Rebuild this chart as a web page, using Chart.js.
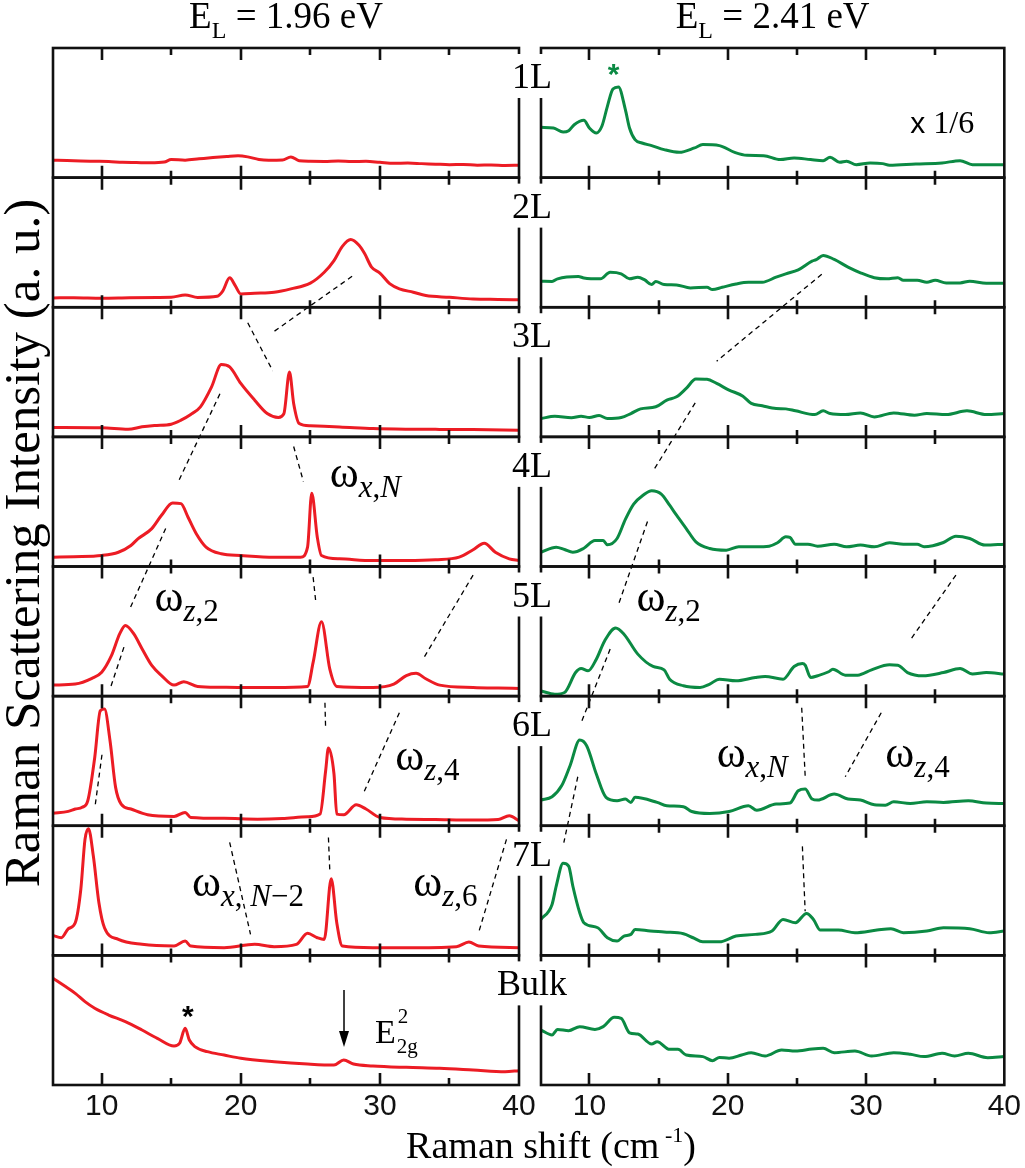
<!DOCTYPE html>
<html>
<head>
<meta charset="utf-8">
<title>Raman spectra 1L - Bulk</title>
<script src="https://cdn.jsdelivr.net/npm/chart.js@4.4.1/dist/chart.umd.min.js"></script>
<style>
  body { margin: 0; background: #fff; }
  #wrap { position: relative; width: 1025px; height: 1168px; }
  #wrap canvas { position: absolute; left: 0; top: 0; }
</style>
</head>
<body>
<div id="wrap">
  <canvas id="chartLeft" width="1025" height="1168"></canvas>
  <canvas id="chartRight" width="1025" height="1168"></canvas>
</div>
<script>
// panels, top to bottom
const panels = ['1L', '2L', '3L', '4L', '5L', '6L', '7L', 'Bulk'];
const xTickValues = [10, 20, 30, 40];
const xMinorTicks = [15, 25, 35];

// E_L = 1.96 eV (red), [shift cm-1, intensity a.u.]
const red1L = [[6.5,13.4],[7.5,13.2],[8.5,12.8],[9.5,12.6],[10.5,12.4],[11.5,11.8],[12.5,11.6],[13.5,11.4],[14.5,12.0],[15,13.9],[16,13.5],[17,14.5],[18,15.5],[19,16.3],[19.8,16.8],[20.5,16.0],[21.3,14.0],[22,13.4],[23,13.6],[23.6,16.0],[24.2,13.0],[25,12.6],[26,12.5],[27,12.8],[28,12.4],[29,12.6],[30,11.8],[31,11.0],[32,11.2],[33,10.8],[34,10.4],[35,10.0],[36,10.2],[37,9.6],[38,9.8],[39,9.4],[40,9.6]];
const red2L = [[6.5,7.2],[8,7.4],[10,7.0],[12,7.4],[14,7.6],[15,7.7],[16,9.5],[16.9,7.6],[18.3,8.5],[18.7,12.5],[19.2,22.7],[19.6,16.7],[20,10.3],[21,10.8],[22.4,11.6],[23.6,14.2],[25,18.6],[26,27],[26.7,36],[27.3,47],[27.9,52.3],[28.5,47.8],[28.9,41.4],[29.4,31],[30,26.4],[30.7,18.2],[31.4,14.2],[32.4,11.6],[33.3,9],[35,7.7],[36.7,6.4],[38.5,6.0],[40,5.7]];
const red3L = [[6.5,7.2],[10,7.0],[11.9,5.8],[12.9,7.8],[13.8,8.8],[15,9.8],[15.7,12.9],[16.4,17.3],[17.1,23.2],[17.9,38.6],[18.6,55.8],[19.2,54],[20,41.2],[21,28.3],[21.9,18],[22.7,15],[23.1,18],[23.5,50],[23.8,25.8],[24.2,10.3],[25,8.5],[27.1,7.7],[29.5,6.4],[31.9,5.9],[34,5.8],[36.7,5.6],[40,5.1]];
const red4L = [[6.5,7.2],[8,7.6],[10,8.5],[11.2,11],[12.1,16.2],[12.6,21.3],[13.6,29.2],[14.3,39.5],[15.1,49],[15.7,48.5],[16.2,38.2],[16.8,25.3],[17.5,15],[18.6,9.8],[20,8.5],[22.4,7.2],[24.3,7.2],[24.8,15],[25.1,56.6],[25.5,22.6],[25.8,8.5],[27.1,5.9],[29.5,4.6],[31.9,4.6],[34,5.2],[35.7,7.2],[36.7,12.9],[37.5,18],[38.3,11],[39.3,5.9],[40,4.6]];
const red5L = [[6.5,8.5],[8.1,9.3],[9.3,13.7],[10,18.4],[10.7,31.2],[11.3,48.2],[11.7,54.5],[12.3,48.2],[12.9,36.6],[13.6,23.7],[14.3,15.9],[15.2,8.5],[15.9,11.1],[16.9,7.5],[18.5,6.9],[20,6.7],[22.4,6.7],[24.8,7.5],[25.2,26],[25.8,57.4],[26.4,20.8],[26.9,7.5],[29.5,6.7],[31,9.3],[31.9,15.9],[32.6,17.7],[33.3,13.4],[34.3,8.5],[36.7,6.7],[38.5,6.2],[40,5.9]];
const red6L = [[6.5,9.6],[7.6,11.1],[8.1,12.9],[8.6,14.2],[9,19.3],[9.5,52.7],[9.9,88.7],[10.2,90],[10.6,65.6],[11,29.6],[11.4,16.7],[12.1,12.9],[13.3,8.5],[15.2,7.2],[16,10.3],[16.4,6.4],[18.8,5.7],[21.2,5.1],[23,5.6],[24.8,6.9],[25.7,9],[26.1,42.4],[26.3,59.9],[26.7,39.9],[26.9,9],[27.4,8.5],[28.3,16.2],[29,12.9],[30,6.4],[31.9,5.1],[34,4.8],[36.7,4.4],[38.5,4.8],[39.3,7.7],[40,3.9]];
const red7L = [[6.5,15.4],[7.1,13.6],[7.6,20.5],[8.1,25.2],[8.5,51],[8.8,89.5],[9.05,97.7],[9.4,76.6],[9.8,40.6],[10.2,21.3],[11.2,12.3],[12.9,8.5],[15.2,7.2],[16,11],[16.4,7.2],[18.8,5.9],[21,8.5],[22.4,6.7],[24,8.5],[24.8,17],[25.5,13.6],[26,12.3],[26.5,59.1],[26.9,25.2],[27.3,7.2],[29.5,5.9],[31.9,5.9],[35.5,6.7],[36.4,10.3],[37.1,7.2],[40,5.9]];
const redBulk = [[6.5,82.3],[7.4,75.9],[8.1,70.7],[8.8,64.3],[9.5,59.2],[10.5,54],[11.7,48.9],[12.9,42.4],[14,36],[15.2,30.1],[15.6,32.2],[16,43.7],[16.3,34.7],[16.7,29.6],[17.6,25.7],[18.8,23.1],[20,20.6],[22.4,18],[24.8,16.2],[26.7,15.4],[27.4,19.3],[28.1,16.2],[29.5,14.7],[31.9,13.6],[34.3,12.9],[36.7,11.6],[39,10.3],[40,11]];

// E_L = 2.41 eV (green)
const green1L = [[6.5,38.8],[7.4,38.3],[8.1,35.2],[8.5,36.2],[8.9,40.8],[9.6,44.2],[10,38.3],[10.5,34.4],[10.9,39.6],[11.3,55],[11.7,68.4],[12.1,70],[12.6,52.5],[12.9,38.3],[13.3,29.3],[13.8,26.7],[14.5,24.7],[15.4,21.6],[16.5,19.5],[17.6,22.9],[18.2,25.5],[19.4,24.7],[20.5,19.5],[21.4,17.2],[22.6,16.9],[23.8,13.9],[24.8,15.2],[26,13.9],[26.9,13.1],[27.4,15.7],[28.1,11.8],[28.6,12.6],[29.3,10],[30.3,11.3],[31.2,10.8],[31.7,9.5],[33.6,10.5],[35.5,11.3],[36.8,13.1],[37.7,10],[40,10]];
const green2L = [[6.5,20.1],[7.3,19.9],[7.7,21.9],[9.2,23.7],[9.6,22.6],[10.8,21.9],[11.5,27],[12.3,25.8],[12.9,21.9],[13.5,23.2],[14,21.1],[14.5,17.5],[14.8,19.9],[15.4,17.5],[16.3,17.2],[17.3,14.9],[18.5,15.4],[18.9,13.6],[19.6,15.4],[20.6,18],[21.5,19.3],[22.5,19.3],[23.5,23.2],[24.2,25.8],[25.1,28.9],[26.1,35.6],[26.4,36.7],[26.9,40],[27.7,36.9],[28.7,31],[29.6,26.6],[30.6,22.8],[31.5,21.9],[32.3,22.8],[32.7,20.8],[33.7,20.8],[34.4,19.3],[35,20.8],[35.8,18.8],[36.8,18.8],[37.5,20.1],[38.7,18.5],[40,18.5]];
const green3L = [[6.5,14.1],[7.5,15.9],[8.7,14.7],[9.4,15.9],[10,14.9],[10.7,16.5],[11.3,14.1],[12.3,14.9],[13,18],[13.7,21.6],[14.8,23.2],[15.6,28.4],[16.3,30.9],[17,37.4],[17.7,44.6],[18.5,44.4],[19.2,41.2],[20.1,36.1],[21.1,31.4],[21.7,25.8],[22.5,24],[23.5,21.9],[24.2,21.6],[24.9,20.1],[26.3,17.2],[26.9,20.1],[27.4,18],[28.5,17.2],[29.6,18.5],[30.6,15.4],[32,18.5],[33.5,16.7],[34.4,18],[35.8,17.2],[37.3,20.1],[38.7,17.2],[40,18]];
const green4L = [[6.5,11],[7.6,14.9],[8.2,13.1],[8.8,11],[9.6,14.1],[10.4,20],[11,20],[11.3,16.7],[12,21.6],[12.6,36.3],[13.2,48.1],[13.9,55.1],[14.5,58.5],[15.2,55.9],[15.8,47.3],[16.3,39.6],[17,29.3],[17.7,19],[18.7,13.9],[19.9,12.6],[20.8,15.2],[22,15.2],[23,15.7],[23.6,18.3],[24.2,22.9],[24.5,22.4],[24.9,17.2],[25.8,17.2],[26.5,15.7],[27.7,17.2],[28.6,15.2],[29.6,16.5],[30.6,15.2],[31.7,18.3],[32.7,17.2],[33.7,17.2],[34.2,15.2],[35.6,18.5],[36.5,23.4],[37.5,21.6],[38.6,16.5],[40,17.2]];
const green5L = [[6.5,4],[7.5,1.5],[8.2,2.8],[9,18.2],[9.4,21.3],[9.9,19.5],[10.5,28.5],[11.1,42.6],[11.9,52.6],[12.5,47.8],[13.5,32.4],[14.6,22.9],[15.4,20.3],[15.8,13.1],[16.8,8],[18,6.7],[18.7,9.3],[19.4,13.1],[20.6,11.8],[22,14.4],[22.7,15.2],[24,13.1],[24.8,22.9],[25.4,25.2],[25.6,23.9],[26,14.4],[26.5,15.7],[27.3,18.8],[27.6,20.8],[28.5,16.2],[29.4,16.2],[30.4,20.3],[31.7,24.2],[32.3,23.9],[33,18.2],[34.1,15.7],[35.6,18.2],[36.8,21.3],[37.7,17],[38.7,18.2],[40,17]];
const green6L = [[6.5,19.8],[7.3,22.4],[8,31],[8.6,46.3],[9.3,66.1],[9.8,61.7],[10.5,39.9],[11.2,21.9],[12,19.3],[12.6,20.6],[13,18],[13.3,21.9],[14.9,18],[15.6,15.4],[16.8,14.7],[17.4,11],[18.7,9.5],[20.1,11],[21.5,15.4],[22.1,12],[23.5,16.7],[24.5,17.5],[25.1,27],[25.6,28.3],[26.1,20.6],[26.5,19.8],[27.7,24.4],[28.7,20.6],[29.6,19.8],[30.6,16.2],[31.4,15.9],[32,18.5],[33.2,17.2],[34.4,18.5],[35.6,18],[37.4,19.3],[38.7,17.5],[40,17.2]];
const green7L = [[6.5,27.7],[7.3,39.3],[7.6,53.5],[8.1,71],[8.5,68.9],[8.8,53.5],[9.3,32.9],[9.6,25.2],[10.6,21.3],[11.3,13.6],[12,11],[12.5,14.9],[13,16.2],[13.3,20],[14.4,18.8],[15.4,18],[16.8,16.7],[17.5,13.6],[18.2,10.5],[19.4,10.5],[20.6,14.9],[22,16.2],[23.2,18.8],[24,27.7],[24.9,25.2],[25.7,32.4],[26.2,27.7],[26.7,19.5],[28,19.5],[29.2,17.5],[30.8,19.5],[31.8,20.6],[32.7,17.5],[34.4,18.8],[35.6,21.3],[37.5,20.6],[38.9,17.5],[40,18.8]];
const greenBulk = [[6.5,42.4],[7.3,38.6],[7.7,42.9],[8.5,41.9],[9.3,45],[10.4,42.9],[11,45],[11.8,52.2],[12.3,51.4],[12.9,40.3],[13.5,39.3],[14.5,31.6],[14.9,33.4],[15.8,27.5],[16.4,27.5],[17,23.1],[18.2,21.9],[18.9,18.8],[19.4,21.3],[20.1,20.6],[21,23.1],[21.7,24.9],[22.7,22.4],[23.9,27],[24.9,26.2],[26.1,27.8],[26.9,28.3],[27.7,24.9],[29.2,26.2],[30.4,22.4],[32,24.9],[33.2,23.7],[34.2,21.9],[35.5,24.4],[36.4,22.4],[37.4,24.4],[38.8,21.1],[40,21.9]];

// guide lines (dashed), endpoints in [shift, intensity] of the panel listed
const guidesLeft = [
  [1, [[28.0,23.9],[22.2,-20.1]]],
  [2, [[20.5,88],[22.3,50.9]]],
  [2, [[18.5,33.2],[15.5,-34.7]]],
  [3, [[23.8,92.6],[24.5,65.6]]],
  [3, [[14.6,29.3],[12.0,-33.2]]],
  [4, [[25.2,91.8],[25.4,71.8]]],
  [4, [[36.7,93.4],[33.1,28.5]]],
  [4, [[11.6,37.8],[10.67,7.7]]],
  [5, [[10.02,54.8],[9.52,14.7]]],
  [5, [[26.05,94.9],[26.1,74.1]]],
  [5, [[31.4,87.2],[28.8,24.7]]],
  [6, [[19.2,87.2],[20.7,16.2]]],
  [6, [[26.3,91],[26.4,64.8]]],
  [6, [[39.1,89.5],[37.1,17.7]]]
];
const guidesRight = [
  [1, [[26.8,25.5],[19.2,-41.7]]],
  [2, [[17.65,26.2],[14.7,-24.7]]],
  [3, [[14.2,34.7],[12.1,-29.3]]],
  [4, [[11.5,36.3],[9.45,-19.3]]],
  [4, [[36.5,93.4],[33.3,44.8]]],
  [5, [[9.16,37.8],[8.15,-13.1]]],
  [5, [[25.35,91],[25.6,38.6]]],
  [5, [[31.1,87.2],[28.5,37.8]]],
  [6, [[25.4,84.1],[25.6,34]]]
];

const redSeries = [red1L, red2L, red3L, red4L, red5L, red6L, red7L, redBulk];
const greenSeries = [green1L, green2L, green3L, green4L, green5L, green6L, green7L, greenBulk];

const RED = '#ec1c24';
const GREEN = '#0b8a43';
const SERIF = '"Liberation Serif", "Times New Roman", serif';
const SANS = '"Liberation Sans", Arial, sans-serif';

function buildScales() {
  const scales = {
    x: {
      type: 'linear', min: 6.5, max: 40, position: 'bottom',
      grid: { display: false, drawTicks: false },
      border: { display: false },
      ticks: { color: '#111', font: { family: SANS, size: 30 }, padding: 4, maxRotation: 0 },
      afterBuildTicks: s => { s.ticks = xTickValues.map(v => ({ value: v })); },
      afterFit: s => { s.height = 40; }
    }
  };
  // stacked left axes are laid out last-defined on top, so add bottom panel first
  for (let k = panels.length - 1; k >= 0; k--) {
    scales['y' + k] = {
      type: 'linear', min: 0, max: 100, position: 'left', stack: 'rows', stackWeight: 1,
      ticks: { display: false },
      grid: { display: false, drawTicks: false },
      border: { display: false },
      afterFit: s => { s.width = 0; }
    };
  }
  return scales;
}

function buildDatasets(series, color, guides) {
  const sets = series.map((pts, k) => ({
    data: pts.map(p => ({ x: p[0], y: p[1] })),
    yAxisID: 'y' + k,
    borderColor: color,
    borderWidth: 3,
    pointRadius: 0,
    cubicInterpolationMode: 'monotone'
  }));
  guides.forEach(g => {
    sets.push({
      data: g[1].map(p => ({ x: p[0], y: p[1] })),
      yAxisID: 'y' + g[0],
      borderColor: '#000',
      borderWidth: 1.3,
      borderDash: [5, 4],
      pointRadius: 0,
      tension: 0,
      clip: false
    });
  });
  return sets;
}

function pos(chart, x, k, v) {
  return [chart.scales.x.getPixelForValue(x), chart.scales['y' + k].getPixelForValue(v)];
}

// draw a row of text runs: [text, font, dy]
function runs(ctx, x, y, parts, align) {
  let w = 0;
  parts.forEach(r => { ctx.font = r[1]; w += ctx.measureText(r[0]).width; });
  let cx = align === 'center' ? x - w / 2 : x;
  parts.forEach(r => {
    ctx.font = r[1];
    ctx.fillText(r[0], cx, y + (r[2] || 0));
    cx += ctx.measureText(r[0]).width;
  });
}

function omega(ctx, x, y, sub) {
  // sub: array of [text, italic]
  const parts = [['ω', '44px ' + SERIF, 0]];
  sub.forEach(s => parts.push([s[0], (s[1] ? 'italic ' : '') + '31px ' + SERIF, 10]));
  runs(ctx, x, y, parts, 'left');
}

const frames = {
  id: 'frames',
  afterDatasetsDraw(chart) {
    const ctx = chart.ctx;
    const xs = chart.scales.x;
    const left = chart.chartArea.left, right = chart.chartArea.right;
    ctx.save();
    ctx.strokeStyle = '#111';
    ctx.lineWidth = 2.6;
    panels.forEach((p, k) => {
      const ys = chart.scales['y' + k];
      ctx.strokeRect(left, ys.top, right - left, ys.bottom - ys.top);
      ctx.beginPath();
      xTickValues.concat(xMinorTicks).forEach(v => {
        if (v >= 40) return;
        const len = xMinorTicks.includes(v) ? 7 : 12;
        const px = Math.round(xs.getPixelForValue(v));
        ctx.moveTo(px, ys.top); ctx.lineTo(px, ys.top + len);
        ctx.moveTo(px, ys.bottom); ctx.lineTo(px, ys.bottom - len);
      });
      ctx.stroke();
    });
    ctx.restore();
  }
};

const leftText = {
  id: 'leftText',
  afterDraw(chart) {
    const ctx = chart.ctx;
    const a = chart.chartArea;
    ctx.save();
    ctx.fillStyle = '#000';
    ctx.textBaseline = 'alphabetic';
    runs(ctx, (a.left + a.right) / 2, 28, [['E', '37px ' + SERIF], ['L', '24px ' + SERIF, 10], [' = 1.96 eV', '37px ' + SERIF]], 'center');

    // y title
    ctx.save();
    ctx.translate(39, 543);
    ctx.rotate(-Math.PI / 2);
    ctx.textAlign = 'center';
    ctx.font = '51px ' + SERIF;
    ctx.fillText('Raman Scattering Intensity (a. u.)', 0, 0);
    ctx.restore();

    let p = pos(chart, 26.4, 3, 61.7); omega(ctx, p[0], p[1], [['x', true], [',', false], ['N', true]]);
    p = pos(chart, 13.8, 4, 65.6); omega(ctx, p[0], p[1], [['z', true], [',2', false]]);
    p = pos(chart, 31.1, 5, 43.2); omega(ctx, p[0], p[1], [['z', true], [',4', false]]);
    p = pos(chart, 16.5, 6, 45.5); omega(ctx, p[0], p[1], [['x', true], [', ', false], ['N', true], ['\u22122', false]]);
    p = pos(chart, 32.4, 6, 45.5); omega(ctx, p[0], p[1], [['z', true], [',6', false]]);

    // bulk asterisk and E2g arrow
    ctx.textAlign = 'center';
    p = pos(chart, 16.2, 7, 45.5);
    ctx.font = 'bold 30px ' + SANS;
    ctx.fillText('*', p[0], p[1]);
    ctx.textAlign = 'left';
    const t = pos(chart, 27.42, 7, 73.3), b = pos(chart, 27.42, 7, 29.3);
    ctx.strokeStyle = '#000';
    ctx.lineWidth = 1.5;
    ctx.beginPath(); ctx.moveTo(t[0], t[1]); ctx.lineTo(b[0], b[1] - 12); ctx.stroke();
    ctx.beginPath(); ctx.moveTo(b[0], b[1]); ctx.lineTo(b[0] - 5, b[1] - 16); ctx.lineTo(b[0] + 5, b[1] - 16); ctx.closePath(); ctx.fill();
    p = pos(chart, 29.65, 7, 32.4);
    ctx.font = '34px ' + SERIF;
    ctx.fillText('E', p[0], p[1]);
    const ew = ctx.measureText('E').width;
    ctx.font = '21px ' + SERIF;
    ctx.fillText('2', p[0] + ew + 2, p[1] - 20);
    ctx.fillText('2g', p[0] + ew + 1, p[1] + 10);
    ctx.restore();
  }
};

const rightText = {
  id: 'rightText',
  afterDraw(chart) {
    const ctx = chart.ctx;
    const a = chart.chartArea;
    ctx.save();
    ctx.fillStyle = '#000';
    runs(ctx, (a.left + a.right) / 2, 28, [['E', '37px ' + SERIF], ['L', '24px ' + SERIF, 10], [' = 2.41 eV', '37px ' + SERIF]], 'center');

    // x title
    runs(ctx, 551, 1158, [['Raman shift (cm', '38px ' + SERIF], [' -1', '22px ' + SERIF, -16], [')', '38px ' + SERIF]], 'center');

    // panel labels sit in the gap between the two columns
    ctx.font = '36px ' + SERIF;
    ctx.textAlign = 'center';
    panels.forEach((lab, k) => {
      const ys = chart.scales['y' + k];
      const w = ctx.measureText(lab).width;
      ctx.fillStyle = '#fff';
      ctx.fillRect(532 - w / 2 - 3, ys.top + 6, w + 6, 44);
      ctx.fillStyle = '#000';
      ctx.fillText(lab, 532, ys.top + 40);
    });

    ctx.textAlign = 'left';
    let p = pos(chart, 11.75, 0, 72.5);
    ctx.fillStyle = GREEN;
    ctx.font = 'bold 30px ' + SANS;
    ctx.textAlign = 'center';
    ctx.fillText('*', p[0], p[1]);
    ctx.textAlign = 'left';
    ctx.fillStyle = '#000';
    p = pos(chart, 33.2, 0, 34.7);
    runs(ctx, p[0], p[1], [['x', '30px ' + SANS], [' 1/6', '32px ' + SERIF]], 'left');

    p = pos(chart, 13.4, 4, 65.6); omega(ctx, p[0], p[1], [['z', true], [',2', false]]);
    p = pos(chart, 19.2, 5, 45.5); omega(ctx, p[0], p[1], [['x', true], [',', false], ['N', true]]);
    p = pos(chart, 31.4, 5, 45.5); omega(ctx, p[0], p[1], [['z', true], [',4', false]]);
    ctx.restore();
  }
};

function makeChart(id, series, color, guides, padLeft, padRight, extra) {
  return new Chart(document.getElementById(id), {
    type: 'line',
    data: { datasets: buildDatasets(series, color, guides) },
    options: {
      responsive: false,
      animation: false,
      devicePixelRatio: 1,
      layout: { padding: { left: padLeft, right: padRight, top: 48, bottom: 43 } },
      scales: buildScales(),
      plugins: { legend: { display: false }, tooltip: { enabled: false } }
    },
    plugins: [frames, extra]
  });
}

makeChart('chartLeft', redSeries, RED, guidesLeft, 53, 506, leftText);
makeChart('chartRight', greenSeries, GREEN, guidesRight, 541, 19, rightText);
</script>
</body>
</html>
